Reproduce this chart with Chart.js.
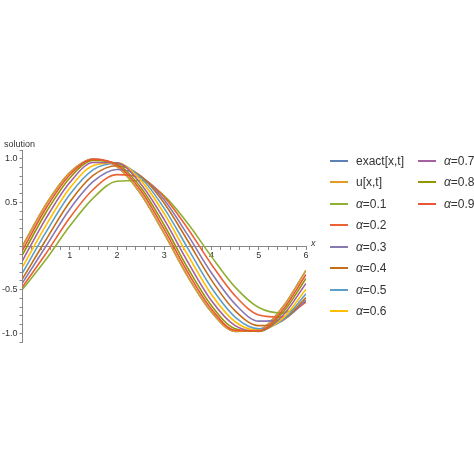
<!DOCTYPE html>
<html><head><meta charset="utf-8">
<script src="https://cdn.jsdelivr.net/npm/chart.js@4/dist/chart.umd.min.js"></script>
<style>
body{margin:0;background:#fff;font-family:"Liberation Sans",Arial,sans-serif;}
#wrap{position:relative;width:474px;height:474px;}
#cw{position:absolute;left:0;top:140px;width:318px;height:210px;}
.lab{position:absolute;font-size:9px;color:#333;}
#legend{position:absolute;left:330px;top:150px;font-size:12px;color:#333;}
.col{position:absolute;top:0;width:80px;}
.it{height:21.5px;display:flex;align-items:center;}
.sw{width:18px;height:2px;margin-right:8px;}
</style></head><body>
<div id="wrap">
<div id="cw"><canvas id="c"></canvas></div>
<div class="lab" style="left:4px;top:139px;">solution</div>
<div class="lab" style="left:311px;top:238px;font-style:italic;">x</div>
<div id="legend"></div>
</div>
<script>
const xs=[0,0.5,1,1.5,2,2.5,3,3.5,4,4.5,5,5.5,6];
const exact=[0,.479,.841,.997,.909,.598,.141,-.351,-.757,-.978,-.959,-.706,-.279];
const uxt=[0,.479,.841,.997,.909,.598,.141,-.351,-.757,-.978,-.959,-.706,-.279];
const a01=[-.496,-.153,.228,.552,.742,.750,.574,.258,-.122,-.471,-.705,-.767,-.641];
const a02=[-.469,-.083,.323,.650,.818,.785,.560,.198,-.212,-.571,-.790,-.815,-.642];
const a03=[-.422,0,.422,.740,.877,.800,.526,.124,-.309,-.666,-.861,-.844,-.621];
const a04=[-.375,.074,.504,.811,.920,.803,.489,.057,-.391,-.743,-.912,-.858,-.592];
const a05=[-.308,.161,.590,.875,.945,.785,.431,-.027,-.479,-.814,-.949,-.853,-.547];
const a06=[-.240,.240,.662,.921,.954,.755,.371,-.105,-.555,-.868,-.969,-.833,-.495];
const a07=[-.166,.319,.727,.956,.952,.714,.302,-.184,-.627,-.913,-.978,-.802,-.429];
const a08=[-.100,.387,.779,.980,.941,.672,.238,-.255,-.685,-.947,-.977,-.769,-.372];
const a09=[-.050,.435,.813,.993,.929,.638,.190,-.304,-.724,-.966,-.973,-.740,-.327];
const names=["exact[x,t]","u[x,t]","α=0.1","α=0.2","α=0.3","α=0.4","α=0.5","α=0.6","α=0.7","α=0.8","α=0.9"];
const series=[exact,uxt,a01,a02,a03,a04,a05,a06,a07,a08,a09];
const colors=["#5E81B5","#E19C24","#8FB032","#EB6235","#8778B3","#C56E1A","#5D9EC7","#FFBF00","#A5609D","#929600","#E95536"];
const yTickLabels={"1":"1.0","0.5":"0.5","-0.5":"-0.5","-1":"-1.0"};

const datasets=series.map((s,i)=>({label:names[i],data:s.map((v,j)=>({x:xs[j],y:v})),borderColor:colors[i],borderWidth:1.6,pointRadius:0,cubicInterpolationMode:'monotone',fill:false,order:-i}));
new Chart(document.getElementById('c'),{type:'line',data:{datasets},
options:{responsive:true,maintainAspectRatio:false,animation:false,
layout:{padding:{top:10,right:12,bottom:8,left:0}},
plugins:{legend:{display:false},tooltip:{enabled:false}},
scales:{
x:{type:'linear',min:0,max:6,position:{y:0},border:{color:'#888'},grid:{display:true,drawOnChartArea:false,color:'#888',tickLength:3},
ticks:{stepSize:0.2,autoSkip:false,maxRotation:0,font:{size:9},color:'#333',padding:1,callback:v=>{const r=Math.round(v*10)/10;return (Number.isInteger(r)&&r!==0)?String(r):'';}}},
y:{type:'linear',min:-1.1,max:1.1,position:'left',border:{color:'#888'},grid:{display:true,drawOnChartArea:false,color:'#888',tickLength:3},
ticks:{stepSize:0.1,autoSkip:false,font:{size:9},color:'#333',padding:2,callback:v=>{const r=Math.round(v*10)/10;return yTickLabels[String(r)]||'';}}}
}}});
const lg=document.getElementById('legend');
const cols=[names.slice(0,8),names.slice(8)];
cols.forEach((c,ci)=>{const d=document.createElement('div');d.className='col';d.style.left=(ci*88)+'px';
c.forEach((n,k)=>{const idx=ci*8+k;const it=document.createElement('div');it.className='it';
const html=n.startsWith('α')?'<i>α</i>'+n.slice(1):n;
it.innerHTML='<span class="sw" style="background:'+colors[idx]+'"></span><span>'+html+'</span>';d.appendChild(it);});
lg.appendChild(d);});
</script></body></html>
